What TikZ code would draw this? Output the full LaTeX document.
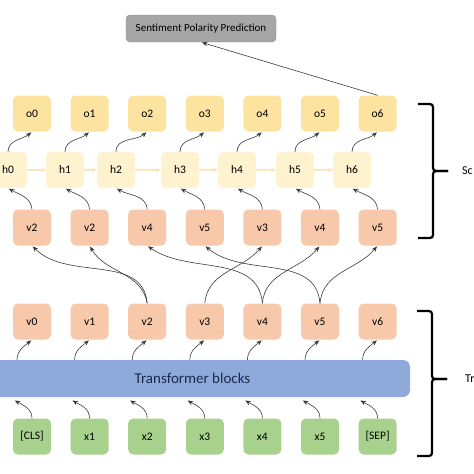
\documentclass[tikz,border=0pt]{standalone}
\usepackage{fontspec}
\setmainfont{Carlito}
\usetikzlibrary{arrows.meta}
\definecolor{ocol}{HTML}{FCE3A0}
\definecolor{hcol}{HTML}{FFF2CF}
\definecolor{vcol}{HTML}{F8C8AB}
\definecolor{gcol}{HTML}{A9D18E}
\definecolor{tcol}{HTML}{8EAADB}
\definecolor{pcol}{HTML}{A6A6A6}
\definecolor{harr}{HTML}{FBE6C0}
\definecolor{arr}{HTML}{3A3A3A}
\definecolor{ttext}{HTML}{1C2A4A}
\tikzset{
  box/.style={rounded corners=5pt, minimum width=38pt, minimum height=36pt, inner sep=0pt,
    font=\fontsize{11.5}{13}\selectfont, text=black},
  obox/.style={box, fill=ocol},
  hbox/.style={box, fill=hcol},
  vbox/.style={box, fill=vcol},
  gbox/.style={box, fill=gcol},
  conn/.style={draw=arr, line width=0.6pt, -{Stealth[length=5.5pt,width=4.5pt]}, shorten >=1pt},
  hconn/.style={draw=harr, line width=1.4pt, -{Stealth[length=5pt,width=5pt]}},
  bracestyle/.style={line width=2.2pt, rounded corners=3pt},
  sidelabel/.style={anchor=west, inner sep=0pt, font=\fontsize{12}{14}\selectfont}
}
\begin{document}
\begin{tikzpicture}[x=1pt,y=-1pt]
\useasboundingbox (0,0) rectangle (474,474);
\def\cols{32,89.6,147.2,204.8,262.4,320,377.6}
% top prediction box
\node[rounded corners=4pt, fill=pcol, draw=pcol!85!black, line width=0.4pt,
  minimum width=150pt, minimum height=27pt, inner sep=0pt,
  font=\fontsize{11}{13}\selectfont, text=black] (spp) at (201,28.5) {Sentiment Polarity Prediction};
% o row
\foreach \x [count=\i from 0] in \cols {
  \node[obox] (o\i) at (\x,113.5) {o\i};
}
% h row
\foreach \x [count=\i from 0] in {8,65,116,180,237,295,352} {
  \node[hbox] (h\i) at (\x,170) {h\i};
}
% upper v row
\foreach \x/\l [count=\i from 0] in {32/v2,89.6/v2,147.2/v4,204.8/v5,262.4/v3,320/v4,377.6/v5} {
  \node[vbox] (u\i) at (\x,227.5) {\l};
}
% lower v row
\foreach \x [count=\i from 0] in \cols {
  \node[vbox] (l\i) at (\x,321.5) {v\i};
}
% transformer
\node[rounded corners=7pt, fill=tcol, minimum width=435pt, minimum height=37pt, inner sep=0pt,
  font=\fontsize{15}{18}\selectfont, text=ttext] (tb) at (192.5,378.5) {Transformer blocks};
% green row
\foreach \x/\l [count=\i from 0] in {32/{[CLS]},89.6/x1,147.2/x2,204.8/x3,262.4/x4,320/x5,377.6/{[SEP]}} {
  \node[gbox] (g\i) at (\x,436.5) {\l};
}
% coordinates on transformer edges
\foreach \x [count=\i from 0] in \cols {
  \pgfmathsetmacro{\xa}{\x-15}
  \pgfmathsetmacro{\xb}{\x-18}
  \coordinate (tt\i) at (\xa,360);
  \coordinate (tbm\i) at (\xb,400);
}
% green -> transformer, transformer -> lower v
\foreach \i in {0,...,6} {
  \draw[conn] (g\i.north) to[out=90,in=-30] (tbm\i);
  \draw[conn] (tt\i) to[out=90,in=-140] (l\i.south);
}
% lower v -> upper v
\draw[conn] (l2.north) to[out=95,in=-45] (u0.south);
\draw[conn] (l2.north) to[out=100,in=-60] (u1.south);
\draw[conn] (l4.north) to[out=95,in=-35] (u2.south);
\draw[conn] (l5.north) to[out=95,in=-40] (u3.south);
\draw[conn] (l3.north) to[out=85,in=-130] (u4.south);
\draw[conn] (l4.north) to[out=85,in=-130] (u5.south);
\draw[conn] (l5.north) to[out=85,in=-130] (u6.south);
% upper v -> h, h -> o
\foreach \i in {0,...,6} {
  \draw[conn] (u\i.north) to[out=95,in=-30] (h\i.south);
  \draw[conn] (h\i.north) to[out=90,in=-140] (o\i.south);
}
% h -> h
\foreach \i [evaluate=\i as \j using int(\i+1)] in {0,...,5} {
  \draw[hconn] (h\i.east) -- (h\j.west);
}
% o6 -> prediction
\draw[conn] (o6.north) -- (spp.south);
% braces
\draw[bracestyle] (418,104) -- (433,104) -- (433,171) -- (448,171);
\draw[bracestyle] (448,171) -- (433,171) -- (433,238) -- (418,238);
\draw[bracestyle] (417,311) -- (432,311) -- (432,379) -- (447,379);
\draw[bracestyle] (447,379) -- (432,379) -- (432,456) -- (417,456);
\node[sidelabel] (sc) at (462,171) {Sc};
\node[sidelabel] (tr) at (465,379) {Tr};
\end{tikzpicture}
\end{document}
